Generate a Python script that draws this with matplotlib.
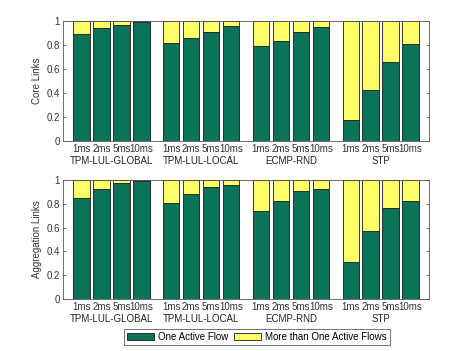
import numpy as np
import matplotlib
matplotlib.use('Agg')
import matplotlib.pyplot as plt
import matplotlib.transforms as mtrans

plt.rcParams['font.family'] = ['Liberation Sans', 'DejaVu Sans']

groups = ['TPM-LUL-GLOBAL', 'TPM-LUL-LOCAL', 'ECMP-RND', 'STP']
intervals = ['1ms', '2ms', '5ms', '10ms']

# fraction of links with one active flow (rest = more than one)
core_one = [0.894, 0.944, 0.964, 0.994,
            0.819, 0.856, 0.911, 0.961,
            0.789, 0.836, 0.906, 0.953,
            0.175, 0.428, 0.656, 0.806]
aggr_one = [0.846, 0.922, 0.972, 0.992,
            0.807, 0.880, 0.941, 0.955,
            0.739, 0.824, 0.905, 0.924,
            0.311, 0.569, 0.765, 0.824]

green = '#0a735a'
yellow = '#ffff66'
fs = 7.0

# bar positions: 4 bars per group, 1.5 units between groups
pos = []
for g in range(len(groups)):
    for k in range(len(intervals)):
        pos.append(1 + g*4.5 + k)
pos = np.array(pos)

fig = plt.figure(figsize=(4.74, 3.51), dpi=100)
ax1 = fig.add_axes([0.132, 0.598, 0.774, 0.342])
ax2 = fig.add_axes([0.132, 0.148, 0.774, 0.339])

def draw(ax, one, ylabel):
    one = np.array(one)
    b1 = ax.bar(pos, one, width=0.82, color=green, edgecolor='#1a1a1a', linewidth=0.6,
                label='One Active Flow')
    b2 = ax.bar(pos, 1-one, bottom=one, width=0.82, color=yellow, edgecolor='#1a1a1a',
                linewidth=0.6, label='More than One Active Flows')
    ax.set_xlim(0.05, 18.45)
    ax.set_ylim(0, 1)
    ax.set_yticks([0, 0.2, 0.4, 0.6, 0.8, 1])
    ax.set_yticklabels(['0', '0.2', '0.4', '0.6', '0.8', '1'])
    ax.set_xticks(pos)
    ax.set_xticklabels(intervals*len(groups))
    ax.tick_params(axis='both', direction='in', labelsize=fs, colors='#333333',
                   length=2.5, width=0.5, right=True, top=True, pad=2)
    ax.tick_params(axis='x', length=0, pad=2.2)
    for s in ax.spines.values():
        s.set_color('#555555')
        s.set_linewidth(0.6)
    ax.set_ylabel(ylabel, fontsize=fs, color='#333333', labelpad=3)
    tr = mtrans.blended_transform_factory(ax.transData, ax.transAxes)
    for g, name in enumerate(groups):
        cx = pos[g*4:(g+1)*4].mean()
        ax.text(cx, -0.165, name, transform=tr, ha='center', va='center',
                fontsize=fs, color='#222222')
    return b1, b2

draw(ax1, core_one, 'Core Links')
b1, b2 = draw(ax2, aggr_one, 'Aggregation Links')

leg = fig.legend([b1, b2], ['One Active Flow', 'More than One Active Flows'],
                 loc='center', bbox_to_anchor=(0.542, 0.04), ncol=2, fontsize=fs,
                 fancybox=False, edgecolor='#333333', handlelength=2.8,
                 handletextpad=0.4, columnspacing=0.6, borderpad=0.3)
leg.get_frame().set_linewidth(0.6)

fig.savefig('out.png', dpi=100)
